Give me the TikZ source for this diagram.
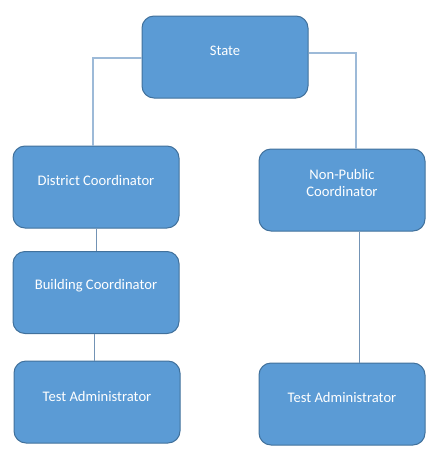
\documentclass[tikz,border=0pt]{standalone}
\usepackage{fontspec}
\setmainfont{Carlito}
\definecolor{boxfill}{HTML}{5B9BD5}
\definecolor{boxline}{HTML}{41719C}
\definecolor{linklight}{HTML}{9DBAD8}
\definecolor{linkdark}{HTML}{7393B5}
\tikzset{
  orgbox/.style={draw=boxline, fill=boxfill, line width=1pt, rounded corners=12pt,
    minimum width=166pt, minimum height=82pt, inner sep=0pt},
  orgtext/.style={text=white, font=\fontsize{14.6}{17.5}\selectfont, align=center, inner sep=0pt},
  linkA/.style={draw=linklight, line width=1.1pt},
  linkB/.style={draw=linkdark, line width=1pt}
}
\begin{document}
\begin{tikzpicture}[x=1pt,y=1pt]
\useasboundingbox (0,0) rectangle (436,-456);
% boxes
\node[orgbox] (s) at (225,-57) {};
\node[orgbox] (d) at (96,-187) {};
\node[orgbox] (b) at (96,-292.5) {};
\node[orgbox] (tl) at (97,-402) {};
\node[orgbox] (n) at (342,-190) {};
\node[orgbox] (tr) at (342,-404) {};
% connectors
\draw[linkA] ([yshift=-1pt]s.west) -| ([xshift=-3pt]d.north);
\draw[linkA] ([yshift=4pt]s.east) -| ([xshift=14pt]n.north);
\draw[linkB] (d.south) -- (b.north);
\draw[linkB] ([xshift=-2pt]b.south) -- ([xshift=-3pt]tl.north);
\draw[linkB] ([xshift=17pt]n.south) -- ([xshift=17pt]tr.north);
% texts
\node[orgtext] (st) at (225,-51) {State};
\node[orgtext] (dt) at (96,-180.7) {District Coordinator};
\node[orgtext] (bt) at (96,-285.7) {Building Coordinator};
\node[orgtext] (tlt) at (97,-396) {Test Administrator};
\node[orgtext] (nt) at (342,-183) {Non-Public\\Coordinator};
\node[orgtext] (trt) at (342,-397.3) {Test Administrator};
\end{tikzpicture}
\end{document}
